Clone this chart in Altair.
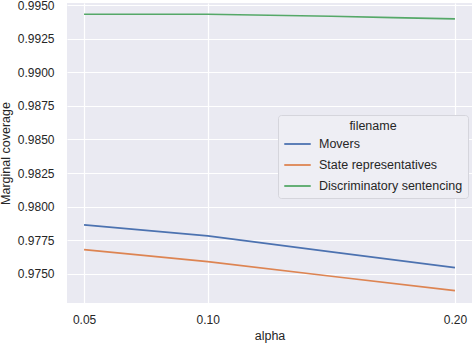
import altair as alt
import pandas as pd

series_names = ["Movers", "State representatives", "Discriminatory sentencing"]
series_colors = ["#4C72B0", "#DD8452", "#55A868"]

movers_alpha = [0.05, 0.10, 0.15, 0.20]
movers_cov = [0.97865, 0.97783, 0.97664, 0.97547]

state_alpha = [0.05, 0.10, 0.15, 0.20]
state_cov = [0.97681, 0.97592, 0.97483, 0.97376]

disc_alpha = [0.05, 0.10, 0.125, 0.15, 0.175, 0.20]
disc_cov = [0.99431, 0.99431, 0.99424, 0.99416, 0.99406, 0.99397]

y_ticks = [0.9750, 0.9775, 0.9800, 0.9825, 0.9850, 0.9875, 0.9900, 0.9925, 0.9950]
x_ticks = [0.05, 0.10, 0.20]

rows = []
for name, xs, ys in [
    (series_names[0], movers_alpha, movers_cov),
    (series_names[1], state_alpha, state_cov),
    (series_names[2], disc_alpha, disc_cov),
]:
    for a, c in zip(xs, ys):
        rows.append({"alpha": a, "cov": c, "filename": name})
df = pd.DataFrame(rows)

FONT = "Liberation Sans"
TXT = "#262626"

chart = alt.Chart(df).mark_line(strokeWidth=1.6).encode(
    x=alt.X("alpha:Q", title="alpha",
            scale=alt.Scale(domain=[0.0431, 0.2069], nice=False, zero=False),
            axis=alt.Axis(values=x_ticks, format=".2f", grid=True, gridColor="white",
                          gridWidth=1.2, ticks=False, domain=False, labelPadding=11,
                          labelFontSize=12, labelColor=TXT, titleFontSize=12.5,
                          titleColor=TXT, titleFontWeight="normal", titlePadding=4,
                          labelFont=FONT, titleFont=FONT)),
    y=alt.Y("cov:Q", title="Marginal coverage",
            scale=alt.Scale(domain=[0.97284, 0.99515], nice=False, zero=False),
            axis=alt.Axis(values=y_ticks, format=".4f", grid=True, gridColor="white",
                          gridWidth=1.2, ticks=False, domain=False, labelPadding=13,
                          labelFontSize=12, labelColor=TXT, titleFontSize=12.5,
                          titleColor=TXT, titleFontWeight="normal", titlePadding=5,
                          labelFont=FONT, titleFont=FONT)),
    color=alt.Color("filename:N", title="filename",
                    scale=alt.Scale(domain=series_names, range=series_colors),
                    sort=series_names,
                    legend=alt.Legend(orient="none", legendX=211, legendY=112,
                                      symbolType="stroke", symbolSize=700,
                                      symbolStrokeWidth=1.8,
                                      fillColor="#EEEEF4", strokeColor="#D5D5DC",
                                      padding=5, cornerRadius=3,
                                      labelFontSize=12.5, titleFontSize=12.5,
                                      labelColor=TXT, titleColor=TXT,
                                      titleFontWeight="normal", titleAnchor="middle",
                                      labelFont=FONT, titleFont=FONT,
                                      rowPadding=-10, titlePadding=-3, labelOffset=7)),
).properties(
    width=405, height=300,
    autosize=alt.AutoSizeParams(type="none"),
    padding={"left": 67, "top": 3, "right": 2, "bottom": 42},
).configure_view(
    fill="#EAEAF2", stroke=None
)

chart.save("out.html", embed_options={"renderer": "svg", "actions": False})
